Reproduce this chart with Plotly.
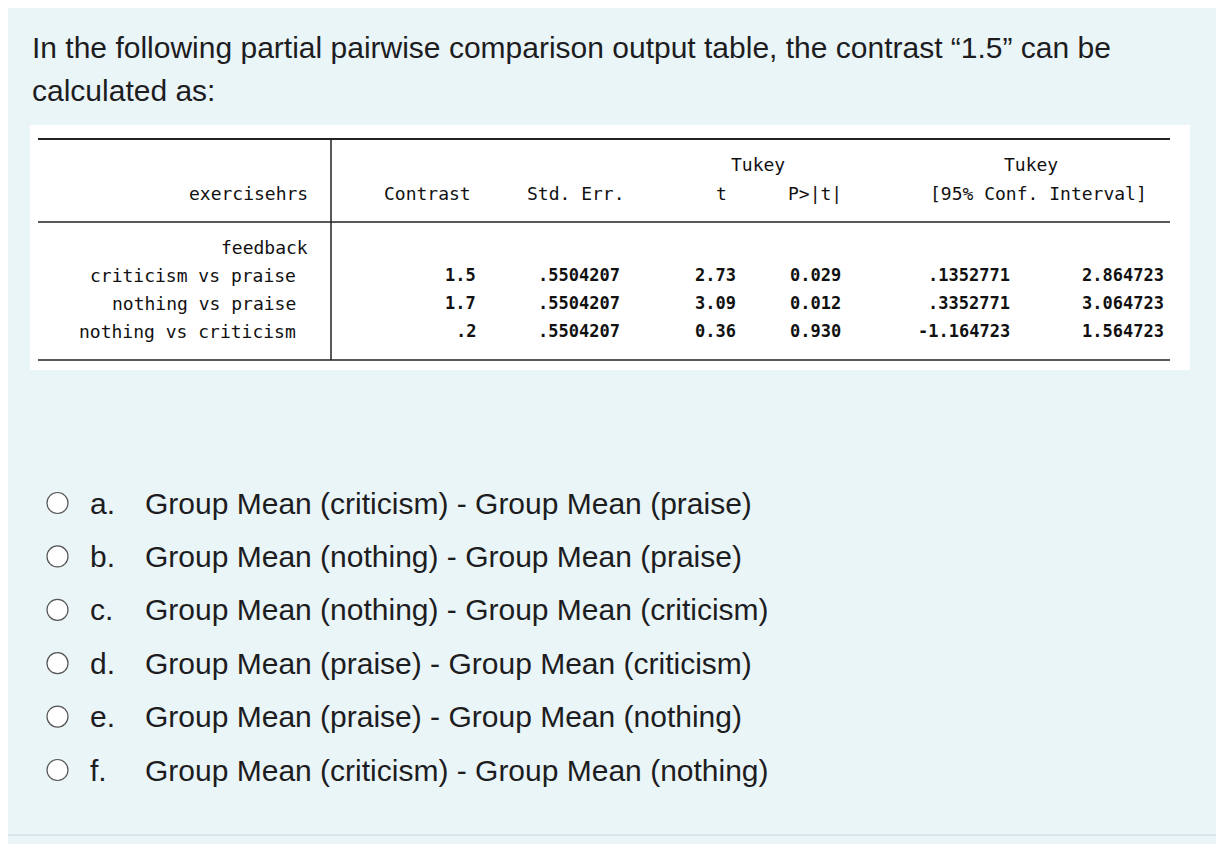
import plotly.graph_objects as go

question = ["In the following partial pairwise comparison output table, the contrast \u201c1.5\u201d can be",
            "calculated as:"]
row_labels = ["criticism vs praise", "nothing vs praise", "nothing vs criticism"]
contrast = ["1.5", "1.7", ".2"]
std_err = [".5504207", ".5504207", ".5504207"]
t_vals = ["2.73", "3.09", "0.36"]
p_vals = ["0.029", "0.012", "0.930"]
ci_low = [".1352771", ".3352771", "-1.164723"]
ci_high = ["2.864723", "3.064723", "1.564723"]
letters = ["a.", "b.", "c.", "d.", "e.", "f."]
options = ["Group Mean (criticism) - Group Mean (praise)",
           "Group Mean (nothing) - Group Mean (praise)",
           "Group Mean (nothing) - Group Mean (criticism)",
           "Group Mean (praise) - Group Mean (criticism)",
           "Group Mean (praise) - Group Mean (nothing)",
           "Group Mean (criticism) - Group Mean (nothing)"]

W, H = 1224, 844
OFF = 8  # page body margin
mono = dict(family="DejaVu Sans Mono", size=18, color="#111")
monob = dict(family="DejaVu Sans Mono", size=17, color="#111", weight="bold")
sans = dict(family="Liberation Sans, Arial", size=30, color="#1d1d1f")

fig = go.Figure()
shapes = []
ann = []

def txt(x, y, s, font, anchor="left"):
    ann.append(dict(x=x, y=y, text=s, showarrow=False, xanchor=anchor,
                    yanchor="middle", font=font, xref="x", yref="y"))

# question
txt(30, 47, question[0], sans)
txt(30, 90, question[1], sans)

# table box and rules
shapes.append(dict(type="rect", x0=30, x1=1190, y0=125, y1=370,
                   fillcolor="white", line=dict(width=0), layer="below"))
for y, w in [(139, 2), (222, 1.5), (360, 1.5)]:
    shapes.append(dict(type="line", x0=38, x1=1170, y0=y, y1=y,
                       line=dict(color="#222", width=w)))
shapes.append(dict(type="line", x0=331, x1=331, y0=139, y1=360,
                   line=dict(color="#222", width=1.5)))

# headers
txt(310, 193, "exercisehrs", mono, "right")
txt(427, 193, "Contrast", mono, "center")
txt(576, 193, "Std. Err.", mono, "center")
txt(758, 164, "Tukey", mono, "center")
txt(721, 193, "t", mono, "center")
txt(815, 193, "P>|t|", mono, "center")
txt(1031, 164, "Tukey", mono, "center")
txt(1038, 193, "[95% Conf. Interval]", mono, "center")
txt(310, 247, "feedback", mono, "right")

cols = [(478, contrast), (622, std_err), (738, t_vals), (843, p_vals),
        (1012, ci_low), (1166, ci_high)]
for i, lab in enumerate(row_labels):
    y = 275 + 28 * i
    txt(298, y, lab, mono, "right")
    for x, vals in cols:
        txt(x, y, vals[i], monob, "right")

# options
for i, (l, o) in enumerate(zip(letters, options)):
    y = 503 + 53.4 * i
    shapes.append(dict(type="circle", x0=47, x1=68, y0=y - 10.5, y1=y + 10.5,
                       line=dict(color="#555", width=1.2), fillcolor="white"))
    txt(88, y, l, sans)
    txt(143, y, o, sans)

shapes.append(dict(type="line", x0=0, x1=W + OFF, y0=835, y1=835,
                   line=dict(color="#c8d4da", width=1)))

fig.update_layout(
    width=W, height=H, margin=dict(l=0, r=0, t=0, b=0),
    paper_bgcolor="#eaf5f8", plot_bgcolor="#eaf5f8",
    xaxis=dict(range=[OFF, W + OFF], visible=False, fixedrange=True),
    yaxis=dict(range=[H + OFF, OFF], visible=False, fixedrange=True),
    shapes=shapes, annotations=ann, showlegend=False,
)
fig.write_html("out.html")
